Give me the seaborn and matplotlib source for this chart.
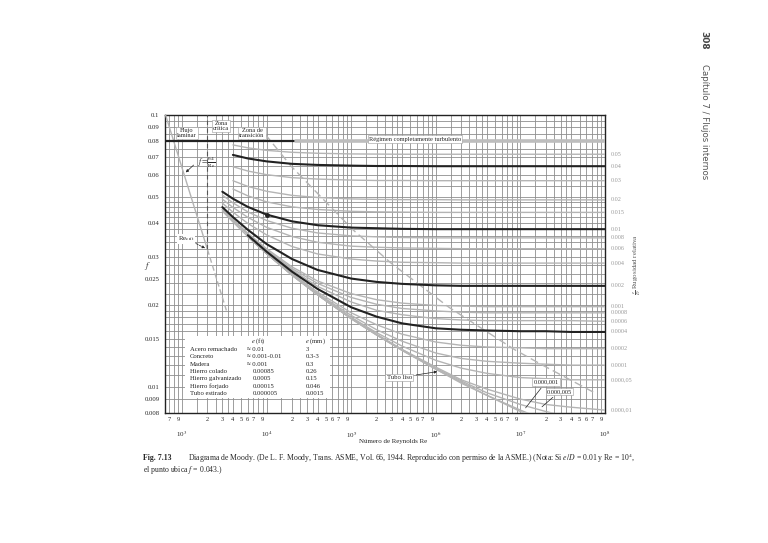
import matplotlib
matplotlib.use("Agg")
import matplotlib.pyplot as plt
import seaborn as sns
from matplotlib.patches import Rectangle
from matplotlib.transforms import blended_transform_factory

# ── datos leídos del diagrama ─────────────────────────────────
# tres rejillas de Re según dónde arranca cada curva
RE_3K = [3e3, 4e3, 6e3, 1e4, 2e4, 4e4, 1e5, 2e5, 4e5, 1e6, 2e6, 4e6, 1e7, 2e7, 4e7, 1e8]
RE_4K = [4e3, 6e3, 1e4, 2e4, 4e4, 1e5, 2e5, 4e5, 1e6, 2e6, 4e6, 1e7, 2e7, 4e7, 1e8]
RE_6K = [6e3, 1e4, 2e4, 4e4, 1e5, 2e5, 4e5, 1e6, 2e6, 4e6, 1e7, 2e7, 4e7, 1e8]

F_0_05    = [0.0776, 0.0757, 0.0741, 0.0729, 0.0723, 0.0719, 0.0718, 0.0717, 0.0717, 0.0717, 0.0717, 0.0717, 0.0717, 0.0717, 0.0717]
F_0_04    = [0.0713, 0.0692, 0.0675, 0.0661, 0.0655, 0.0651, 0.0649, 0.0649, 0.0648, 0.0648, 0.0648, 0.0648, 0.0648, 0.0648, 0.0648]
F_0_03    = [0.0645, 0.0622, 0.0603, 0.0588, 0.0581, 0.0576, 0.0574, 0.0574, 0.0573, 0.0573, 0.0573, 0.0573, 0.0573, 0.0573, 0.0573]
F_0_02    = [0.0573, 0.0546, 0.0524, 0.0506, 0.0497, 0.0491, 0.0489, 0.0488, 0.0488, 0.0487, 0.0487, 0.0487, 0.0487, 0.0487, 0.0487]
F_0_015   = [0.0534, 0.0504, 0.0479, 0.0459, 0.0449, 0.0442, 0.0440, 0.0439, 0.0438, 0.0438, 0.0438, 0.0438, 0.0438, 0.0438, 0.0438]
F_0_01    = [0.0522, 0.0492, 0.0459, 0.0430, 0.0406, 0.0393, 0.0385, 0.0383, 0.0381, 0.0380, 0.0380, 0.0380, 0.0380, 0.0380, 0.0380, 0.0380]
F_0_008   = [0.0507, 0.0475, 0.0440, 0.0409, 0.0383, 0.0368, 0.0359, 0.0356, 0.0354, 0.0353, 0.0353, 0.0353, 0.0353, 0.0353, 0.0353, 0.0353]
F_0_006   = [0.0490, 0.0457, 0.0420, 0.0386, 0.0357, 0.0340, 0.0329, 0.0326, 0.0324, 0.0323, 0.0322, 0.0322, 0.0322, 0.0322, 0.0322, 0.0322]
F_0_004   = [0.0474, 0.0439, 0.0399, 0.0362, 0.0328, 0.0308, 0.0295, 0.0290, 0.0287, 0.0286, 0.0285, 0.0285, 0.0285, 0.0285, 0.0285, 0.0285]
F_0_002   = [0.0458, 0.0421, 0.0378, 0.0335, 0.0295, 0.0269, 0.0250, 0.0243, 0.0239, 0.0236, 0.0235, 0.0235, 0.0235, 0.0235, 0.0235, 0.0235]
F_0_001   = [0.0450, 0.0412, 0.0367, 0.0322, 0.0276, 0.0245, 0.0220, 0.0209, 0.0203, 0.0199, 0.0198, 0.0197, 0.0197, 0.0197, 0.0197, 0.0197]
F_0_0008  = [0.0449, 0.0410, 0.0365, 0.0319, 0.0272, 0.0240, 0.0213, 0.0201, 0.0194, 0.0190, 0.0188, 0.0187, 0.0187, 0.0187, 0.0187, 0.0187]
F_0_0006  = [0.0448, 0.0409, 0.0363, 0.0316, 0.0269, 0.0234, 0.0205, 0.0191, 0.0184, 0.0178, 0.0176, 0.0175, 0.0175, 0.0175, 0.0175, 0.0174]
F_0_0004  = [0.0361, 0.0314, 0.0265, 0.0229, 0.0196, 0.0181, 0.0171, 0.0164, 0.0162, 0.0161, 0.0160, 0.0160, 0.0159, 0.0159]
F_0_0002  = [0.0359, 0.0311, 0.0261, 0.0223, 0.0187, 0.0169, 0.0156, 0.0146, 0.0142, 0.0140, 0.0139, 0.0138, 0.0138, 0.0138]
F_0_0001  = [0.0358, 0.0310, 0.0259, 0.0220, 0.0183, 0.0162, 0.0147, 0.0133, 0.0127, 0.0124, 0.0122, 0.0121, 0.0120, 0.0120]
F_0_00005 = [0.0358, 0.0309, 0.0258, 0.0219, 0.0180, 0.0158, 0.0141, 0.0125, 0.0117, 0.0112, 0.0108, 0.0107, 0.0106, 0.0106]
F_0_00001 = [0.0357, 0.0309, 0.0258, 0.0218, 0.0179, 0.0156, 0.0137, 0.0118, 0.0106, 0.0098, 0.0090, 0.0086, 0.0084, 0.0082]
F_5E_6    = [0.0357, 0.0309, 0.0258, 0.0218, 0.0178, 0.0155, 0.0137, 0.0117, 0.0105, 0.0095, 0.0086, 0.0081, 0.0077, 0.0075]
F_1E_6    = [0.0357, 0.0309, 0.0257, 0.0218, 0.0178, 0.0155, 0.0136, 0.0116, 0.0104, 0.0093, 0.0082, 0.0075, 0.0070, 0.0064]
F_LISO    = [0.0443, 0.0404, 0.0357, 0.0309, 0.0257, 0.0218, 0.0178, 0.0155, 0.0136, 0.0116, 0.0103, 0.0093, 0.0081, 0.0074, 0.0067, 0.0060]

ROUGH_LABELS = ["0.05", "0.04", "0.03", "0.02", "0.015", "0.01", "0.008", "0.006",
                "0.004", "0.002", "0.001", "0.0008", "0.0006", "0.0004", "0.0002",
                "0.0001", "0.000,05", "0.000,01"]
ROUGH_CURVES = [F_0_05, F_0_04, F_0_03, F_0_02, F_0_015, F_0_01, F_0_008, F_0_006,
                F_0_004, F_0_002, F_0_001, F_0_0008, F_0_0006, F_0_0004, F_0_0002,
                F_0_0001, F_0_00005, F_0_00001]
DARK = {"0.04", "0.01", "0.002", "0.0004"}

# flujo laminar f = 64/Re
LAM_RE = [640, 2000]
LAM_F = [0.100, 0.032]
LAM_EXT_RE = [2000, 3400]
LAM_EXT_F = [0.032, 0.0188]

# frontera del régimen completamente turbulento (línea discontinua)
BOUND_RE = [9.6e3, 1.96e4, 1.03e5, 3.0e5, 1.43e6, 8.5e6, 1.83e7, 8.0e7]
BOUND_F = [0.085, 0.0647, 0.038, 0.0284, 0.0196, 0.0137, 0.0120, 0.0094]

# tabla de rugosidades
MATERIALES = ["Acero remachado", "Concreto", "Madera", "Hierro colado",
              "Hierro galvanizado", "Hierro forjado", "Tubo estirado"]
E_FT = ["≈ 0.01", "≈ 0.001-0.01", "≈ 0.001", "0.00085", "0.0005", "0.00015", "0.000005"]
E_MM = ["3", "0.3-3", "0.3", "0.26", "0.15", "0.046", "0.0015"]

Y_TICKS = [0.1, 0.09, 0.08, 0.07, 0.06, 0.05, 0.04, 0.03, 0.025, 0.02, 0.015, 0.01, 0.009, 0.008]
Y_TICKLABELS = ["0.1", "0.09", "0.08", "0.07", "0.06", "0.05", "0.04", "0.03", "0.025",
                "0.02", "0.015", "0.01", "0.009", "0.008"]

# ── estilo ────────────────────────────────────────────────────
sns.set_theme(style="white")
plt.rcParams["font.family"] = ["Liberation Serif", "DejaVu Serif"]
plt.rcParams["mathtext.fontset"] = "stix"

W, H = 768, 543
def P(x, y):
    return (x / W, 1 - y / H)

def grid_for(fv):
    return {len(RE_3K): RE_3K, len(RE_4K): RE_4K, len(RE_6K): RE_6K}[len(fv)]

GRID = "#8e8e8e"
LIGHT = "#b4b4b4"
INK = "#222222"

fig = plt.figure(figsize=(7.68, 5.43), dpi=100)
fig.patch.set_facecolor("white")
ax = fig.add_axes([165 / W, 1 - 413 / H, 440 / W, 298 / H])
ax.set_xscale("log")
ax.set_yscale("log")
ax.set_xlim(630, 1e8)
ax.set_ylim(0.008, 0.1)

# rejilla
xgrid = []
for dec in [1e2, 1e3, 1e4, 1e5, 1e6, 1e7]:
    for m in [1, 1.5, 2, 2.5, 3, 3.5, 4, 5, 6, 7, 8, 9]:
        v = m * dec
        if 630 < v < 1e8:
            xgrid.append(v)
ygrid = ([0.008 + 0.001 * i for i in range(13)] +
         [0.022 + 0.002 * i for i in range(15)] +
         [0.055 + 0.005 * i for i in range(10)])
for v in xgrid:
    ax.axvline(v, color=GRID, lw=0.6, zorder=0)
for v in ygrid:
    ax.axhline(v, color=GRID, lw=0.6, zorder=0)

# curvas de rugosidad
for lab, fv in zip(ROUGH_LABELS, ROUGH_CURVES):
    dark = lab in DARK
    sns.lineplot(x=grid_for(fv), y=fv, ax=ax, color=INK if dark else LIGHT,
                 lw=1.5 if dark else 1.0, zorder=4 if dark else 3, sort=False)
for fv in [F_5E_6, F_1E_6, F_LISO]:
    sns.lineplot(x=grid_for(fv), y=fv, ax=ax, color=LIGHT, lw=1.0, zorder=3, sort=False)

sns.lineplot(x=LAM_RE, y=LAM_F, ax=ax, color=LIGHT, lw=1.0, zorder=3)
ax.plot(LAM_EXT_RE, LAM_EXT_F, color=LIGHT, lw=1.0, ls=(0, (4, 2)), zorder=3)
ax.plot(BOUND_RE, BOUND_F, color=LIGHT, lw=1.0, ls=(0, (6, 3)), zorder=3)
ax.plot([2000, 2000], [0.032, 0.1], color="#555555", lw=0.8, ls=(0, (4, 3)), zorder=3)
ax.plot([1e4], [0.043], "o", color=INK, ms=2.5, zorder=5)

# línea de zonas
ax.plot([630, 2.2e4], [0.08, 0.08], color=INK, lw=1.6, zorder=4)
ax.plot([2.2e4, 1e8], [0.08, 0.08], color="#bdbdbd", lw=2.6, zorder=4)
box = dict(boxstyle="square,pad=0.2", fc="white", ec="#999999", lw=0.4)
tk = dict(fontsize=4.6, ha="center", va="center", zorder=7, linespacing=1.0)
fig.text(*P(187, 133), "Flujo\nlaminar", bbox=box, **tk)
fig.text(*P(221, 126), "Zona\ncrítica", bbox=box, **tk)
fig.text(*P(252, 133), "Zona de\ntransición", bbox=box, **tk)
fig.text(*P(415, 139), "Régimen completamente turbulento", bbox=box, **tk)

arr = dict(arrowstyle="-|>", color=INK, lw=0.5, mutation_scale=4)
ax.annotate("", xy=(1050, 0.0605), xytext=(1450, 0.0665), arrowprops=arr, zorder=7)
fig.text(*P(206, 162), r"$f=\frac{64}{\mathrm{Re}}$", fontsize=5.5, ha="center", va="center")
ax.annotate("", xy=(2000, 0.032), xytext=(1250, 0.0345), arrowprops=dict(arr, ls="--"), zorder=7)
fig.text(*P(186, 239), r"Re$_{\rm crít}$", fontsize=5, ha="center", va="center",
         bbox=dict(boxstyle="square,pad=0.15", fc="white", ec="none"))

ax.annotate("Tubo liso", xy=(1.12e6, 0.0114), xytext=(3.7e5, 0.0108), fontsize=4.8,
            ha="center", va="center", zorder=7, bbox=box, arrowprops=arr)
ax.annotate("0.000,001", xy=(1.1e7, 0.0082), xytext=(2.0e7, 0.0104), fontsize=4.6,
            ha="center", va="center", zorder=7, bbox=box,
            arrowprops=dict(arrowstyle="-", color=INK, lw=0.5))
ax.annotate("0.000,005", xy=(1.7e7, 0.0083), xytext=(2.9e7, 0.0096), fontsize=4.6,
            ha="center", va="center", zorder=7, bbox=box,
            arrowprops=dict(arrowstyle="-", color=INK, lw=0.5))

# etiquetas de rugosidad relativa (derecha)
tr = blended_transform_factory(ax.transAxes, ax.transData)
for lab, fv in zip(ROUGH_LABELS, ROUGH_CURVES):
    ax.text(1.012, fv[-1], lab, transform=tr, fontsize=4.4, color="#9a9a9a",
            ha="left", va="center", clip_on=False)
fig.text(*P(637, 265), r"$\frac{e}{D}$ Rugosidad relativa", rotation=90, fontsize=5,
         color="#555555", ha="center", va="center")

# tabla de materiales
ax.add_patch(Rectangle(P(185, 398), 145 / W, 62 / H, transform=fig.transFigure,
                       fc="white", ec="none", zorder=6, clip_on=False))
tt = dict(fontsize=4.8, va="center", zorder=7, color=INK)
fig.text(*P(258, 341), r"$e$ (ft)", ha="center", **tt)
fig.text(*P(315, 341), r"$e$ (mm)", ha="center", **tt)
for i, (m, a, b) in enumerate(zip(MATERIALES, E_FT, E_MM)):
    y = 349.5 + i * 7.3
    fig.text(*P(190, y), m, ha="left", **tt)
    fig.text(*P(247 if a.startswith("≈") else 253, y), a, ha="left", **tt)
    fig.text(*P(306, y), b, ha="left", **tt)

# ejes
ax.set_yticks(Y_TICKS, Y_TICKLABELS)
ax.yaxis.set_minor_locator(plt.NullLocator())
ax.set_xticks([1e3, 1e4, 1e5, 1e6, 1e7, 1e8],
              ["10$^3$", "10$^4$", "10$^5$", "10$^6$", "10$^7$", "10$^8$"])
mpos, mlab = [7e2, 9e2], ["7", "9"]
for dec in [1e3, 1e4, 1e5, 1e6, 1e7]:
    for m in [2, 3, 4, 5, 6, 7, 9]:
        mpos.append(m * dec)
        mlab.append(str(m))
ax.set_xticks(mpos, mlab, minor=True)
ax.tick_params(axis="x", which="major", labelsize=5, pad=12, length=0)
ax.tick_params(axis="x", which="minor", labelsize=4.6, pad=3, length=0)
ax.tick_params(axis="y", labelsize=4.8, pad=4, length=0)
for s in ax.spines.values():
    s.set_color(INK)
    s.set_linewidth(1.0)
ax.grid(False)

fig.text(*P(393, 441), "Número de Reynolds Re", fontsize=5, ha="center", va="center")
fig.text(*P(147, 266), r"$f$", fontsize=6, ha="center", va="center")

# pie de figura y cabecera de página
fig.text(*P(143, 458), "Fig. 7.13", fontsize=5.6, fontweight="bold", va="center")
fig.text(*P(188, 458),
         "Diagrama de Moody. (De L. F. Moody, Trans. ASME, Vol. 66, 1944. Reproducido con "
         r"permiso de la ASME.) (Nota: Si $e/D$ = 0.01 y Re = 10$^4$,",
         fontsize=5.6, va="center")
fig.text(*P(143, 470), r"el punto ubica $f$ = 0.043.)", fontsize=5.6, va="center")
fig.text(*P(704, 40), "308", rotation=270, fontsize=6.5, fontweight="bold",
         family="DejaVu Sans", color="#444444", ha="center", va="center")
fig.text(*P(704, 122), "Capítulo 7 / Flujos internos", rotation=270, fontsize=6.2,
         family="DejaVu Sans", color="#555555", ha="center", va="center")

fig.savefig("out.png", dpi=100, facecolor="white")
